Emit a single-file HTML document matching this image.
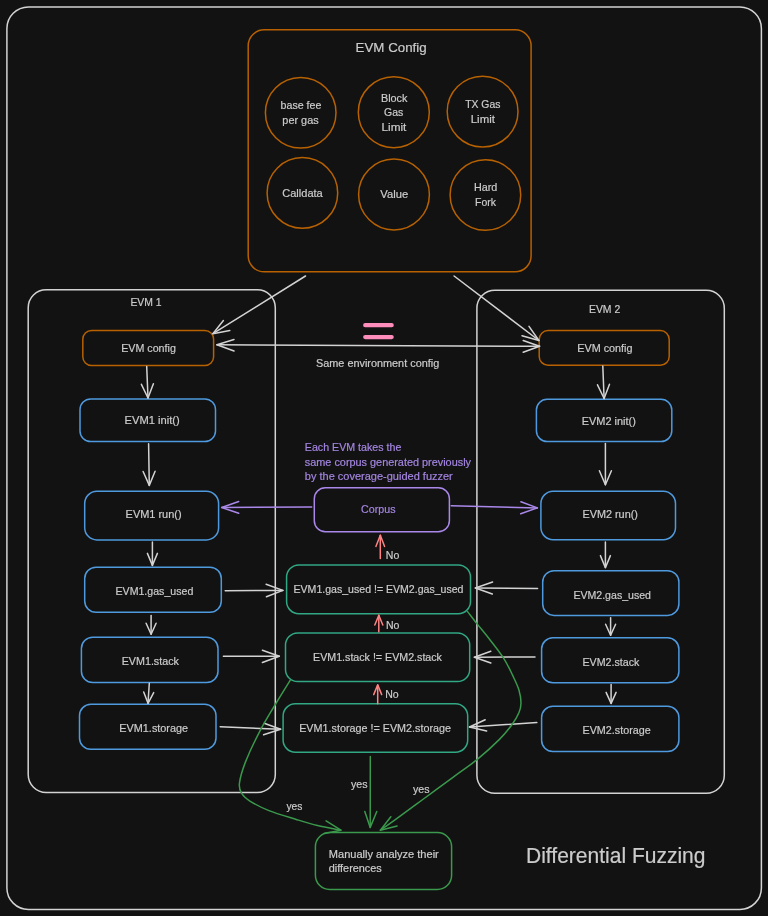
<!DOCTYPE html>
<html><head><meta charset="utf-8"><style>
html,body{margin:0;padding:0;background:#121212;}
body{width:768px;height:916px;overflow:hidden;}
svg{display:block;will-change:transform;font-family:"Liberation Sans",sans-serif;}
</style></head><body>
<svg width="768" height="916" viewBox="0 0 768 916">
<rect width="768" height="916" fill="#121212"/>
<rect x="6.9" y="6.9" width="754.5" height="902.5" rx="21.5" fill="none" stroke="#d3d3d3" stroke-width="1.5"/>
<rect x="248.2" y="29.8" width="282.9" height="242.0" rx="16.0" fill="none" stroke="#b76100" stroke-width="1.5"/>
<text x="391.1" y="51.9" font-size="13.5" fill="#cccccc" stroke="#cccccc" stroke-width="0.2" text-anchor="middle" textLength="71.0" lengthAdjust="spacingAndGlyphs">EVM Config</text>
<circle cx="300.7" cy="112.8" r="35.3" fill="none" stroke="#b76100" stroke-width="1.5"/>
<circle cx="393.8" cy="112.2" r="35.5" fill="none" stroke="#b76100" stroke-width="1.5"/>
<circle cx="482.6" cy="111.6" r="35.4" fill="none" stroke="#b76100" stroke-width="1.5"/>
<circle cx="302.4" cy="192.9" r="35.3" fill="none" stroke="#b76100" stroke-width="1.5"/>
<circle cx="394.0" cy="194.5" r="35.4" fill="none" stroke="#b76100" stroke-width="1.5"/>
<circle cx="485.4" cy="195.0" r="35.3" fill="none" stroke="#b76100" stroke-width="1.5"/>
<text x="301.0" y="109.1" font-size="11.3" fill="#cccccc" stroke="#cccccc" stroke-width="0.2" text-anchor="middle" textLength="40.8" lengthAdjust="spacingAndGlyphs">base fee</text>
<text x="300.5" y="123.9" font-size="11.3" fill="#cccccc" stroke="#cccccc" stroke-width="0.2" text-anchor="middle" textLength="36.3" lengthAdjust="spacingAndGlyphs">per gas</text>
<text x="394.2" y="101.6" font-size="11.3" fill="#cccccc" stroke="#cccccc" stroke-width="0.2" text-anchor="middle" textLength="26.5" lengthAdjust="spacingAndGlyphs">Block</text>
<text x="393.7" y="115.7" font-size="11.3" fill="#cccccc" stroke="#cccccc" stroke-width="0.2" text-anchor="middle" textLength="19.2" lengthAdjust="spacingAndGlyphs">Gas</text>
<text x="394.0" y="130.5" font-size="11.3" fill="#cccccc" stroke="#cccccc" stroke-width="0.2" text-anchor="middle" textLength="24.8" lengthAdjust="spacingAndGlyphs">Limit</text>
<text x="482.8" y="108.1" font-size="11.3" fill="#cccccc" stroke="#cccccc" stroke-width="0.2" text-anchor="middle" textLength="35.2" lengthAdjust="spacingAndGlyphs">TX Gas</text>
<text x="482.8" y="122.5" font-size="11.3" fill="#cccccc" stroke="#cccccc" stroke-width="0.2" text-anchor="middle" textLength="24.1" lengthAdjust="spacingAndGlyphs">Limit</text>
<text x="302.5" y="196.9" font-size="11.3" fill="#cccccc" stroke="#cccccc" stroke-width="0.2" text-anchor="middle" textLength="40.5" lengthAdjust="spacingAndGlyphs">Calldata</text>
<text x="394.2" y="198.0" font-size="11.3" fill="#cccccc" stroke="#cccccc" stroke-width="0.2" text-anchor="middle" textLength="27.9" lengthAdjust="spacingAndGlyphs">Value</text>
<text x="485.6" y="191.1" font-size="11.3" fill="#cccccc" stroke="#cccccc" stroke-width="0.2" text-anchor="middle" textLength="23.4" lengthAdjust="spacingAndGlyphs">Hard</text>
<text x="485.6" y="205.6" font-size="11.3" fill="#cccccc" stroke="#cccccc" stroke-width="0.2" text-anchor="middle" textLength="21.0" lengthAdjust="spacingAndGlyphs">Fork</text>
<rect x="28.2" y="289.8" width="247.1" height="502.8" rx="18.0" fill="none" stroke="#d3d3d3" stroke-width="1.5"/>
<rect x="476.9" y="290.2" width="247.4" height="503.1" rx="18.0" fill="none" stroke="#d3d3d3" stroke-width="1.5"/>
<text x="146.0" y="306.0" font-size="11.3" fill="#cccccc" stroke="#cccccc" stroke-width="0.2" text-anchor="middle" textLength="31.2" lengthAdjust="spacingAndGlyphs">EVM 1</text>
<text x="604.6" y="313.3" font-size="11.3" fill="#cccccc" stroke="#cccccc" stroke-width="0.2" text-anchor="middle" textLength="31.3" lengthAdjust="spacingAndGlyphs">EVM 2</text>
<rect x="82.8" y="330.5" width="130.8" height="35.0" rx="8.8" fill="none" stroke="#b76100" stroke-width="1.5"/>
<text x="148.5" y="351.8" font-size="11.3" fill="#cccccc" stroke="#cccccc" stroke-width="0.2" text-anchor="middle" textLength="54.7" lengthAdjust="spacingAndGlyphs">EVM config</text>
<rect x="80.0" y="398.9" width="135.5" height="42.7" rx="10.7" fill="none" stroke="#4f9ade" stroke-width="1.5"/>
<text x="152.2" y="424.2" font-size="11.3" fill="#cccccc" stroke="#cccccc" stroke-width="0.2" text-anchor="middle" textLength="55.2" lengthAdjust="spacingAndGlyphs">EVM1 init()</text>
<rect x="84.7" y="491.3" width="133.9" height="48.6" rx="12.2" fill="none" stroke="#4f9ade" stroke-width="1.5"/>
<text x="153.6" y="518.3" font-size="11.3" fill="#cccccc" stroke="#cccccc" stroke-width="0.2" text-anchor="middle" textLength="56.0" lengthAdjust="spacingAndGlyphs">EVM1 run()</text>
<rect x="84.7" y="567.2" width="136.6" height="45.1" rx="11.3" fill="none" stroke="#4f9ade" stroke-width="1.5"/>
<text x="154.4" y="595.1" font-size="11.3" fill="#cccccc" stroke="#cccccc" stroke-width="0.2" text-anchor="middle" textLength="77.8" lengthAdjust="spacingAndGlyphs">EVM1.gas_used</text>
<rect x="81.4" y="637.2" width="136.6" height="45.3" rx="11.3" fill="none" stroke="#4f9ade" stroke-width="1.5"/>
<text x="150.3" y="664.8" font-size="11.3" fill="#cccccc" stroke="#cccccc" stroke-width="0.2" text-anchor="middle" textLength="57.3" lengthAdjust="spacingAndGlyphs">EVM1.stack</text>
<rect x="79.5" y="704.3" width="136.5" height="45.0" rx="11.3" fill="none" stroke="#4f9ade" stroke-width="1.5"/>
<text x="153.7" y="732.0" font-size="11.3" fill="#cccccc" stroke="#cccccc" stroke-width="0.2" text-anchor="middle" textLength="68.7" lengthAdjust="spacingAndGlyphs">EVM1.storage</text>
<rect x="539.2" y="330.6" width="130.0" height="34.6" rx="8.8" fill="none" stroke="#b76100" stroke-width="1.5"/>
<text x="604.9" y="352.1" font-size="11.3" fill="#cccccc" stroke="#cccccc" stroke-width="0.2" text-anchor="middle" textLength="55.2" lengthAdjust="spacingAndGlyphs">EVM config</text>
<rect x="536.4" y="399.3" width="135.4" height="42.2" rx="10.7" fill="none" stroke="#4f9ade" stroke-width="1.5"/>
<text x="608.8" y="424.5" font-size="11.3" fill="#cccccc" stroke="#cccccc" stroke-width="0.2" text-anchor="middle" textLength="54.2" lengthAdjust="spacingAndGlyphs">EVM2 init()</text>
<rect x="540.9" y="491.3" width="134.6" height="48.4" rx="12.2" fill="none" stroke="#4f9ade" stroke-width="1.5"/>
<text x="610.2" y="518.1" font-size="11.3" fill="#cccccc" stroke="#cccccc" stroke-width="0.2" text-anchor="middle" textLength="55.5" lengthAdjust="spacingAndGlyphs">EVM2 run()</text>
<rect x="542.7" y="570.7" width="136.2" height="44.7" rx="11.3" fill="none" stroke="#4f9ade" stroke-width="1.5"/>
<text x="612.2" y="598.9" font-size="11.3" fill="#cccccc" stroke="#cccccc" stroke-width="0.2" text-anchor="middle" textLength="77.6" lengthAdjust="spacingAndGlyphs">EVM2.gas_used</text>
<rect x="541.6" y="637.8" width="137.3" height="45.0" rx="11.3" fill="none" stroke="#4f9ade" stroke-width="1.5"/>
<text x="610.9" y="665.6" font-size="11.3" fill="#cccccc" stroke="#cccccc" stroke-width="0.2" text-anchor="middle" textLength="56.8" lengthAdjust="spacingAndGlyphs">EVM2.stack</text>
<rect x="541.6" y="706.3" width="137.3" height="45.3" rx="11.3" fill="none" stroke="#4f9ade" stroke-width="1.5"/>
<text x="616.6" y="734.1" font-size="11.3" fill="#cccccc" stroke="#cccccc" stroke-width="0.2" text-anchor="middle" textLength="68.2" lengthAdjust="spacingAndGlyphs">EVM2.storage</text>
<text x="304.8" y="451.4" font-size="11.3" fill="#a385e0" stroke="#a385e0" stroke-width="0.2" text-anchor="start" textLength="96.6" lengthAdjust="spacingAndGlyphs">Each EVM takes the</text>
<text x="304.8" y="465.9" font-size="11.3" fill="#a385e0" stroke="#a385e0" stroke-width="0.2" text-anchor="start" textLength="166.2" lengthAdjust="spacingAndGlyphs">same corpus generated previously</text>
<text x="304.8" y="480.3" font-size="11.3" fill="#a385e0" stroke="#a385e0" stroke-width="0.2" text-anchor="start" textLength="148.0" lengthAdjust="spacingAndGlyphs">by the coverage-guided fuzzer</text>
<rect x="314.3" y="487.8" width="135.1" height="44.0" rx="11.0" fill="none" stroke="#aa88ea" stroke-width="1.5"/>
<text x="378.3" y="512.8" font-size="11.3" fill="#a385e0" stroke="#a385e0" stroke-width="0.2" text-anchor="middle" textLength="34.4" lengthAdjust="spacingAndGlyphs">Corpus</text>
<rect x="286.6" y="565.0" width="183.9" height="48.7" rx="12.2" fill="none" stroke="#31a783" stroke-width="1.5"/>
<text x="378.5" y="593.1" font-size="11.3" fill="#cccccc" stroke="#cccccc" stroke-width="0.2" text-anchor="middle" textLength="170.0" lengthAdjust="spacingAndGlyphs">EVM1.gas_used != EVM2.gas_used</text>
<rect x="285.5" y="632.9" width="184.2" height="48.7" rx="12.2" fill="none" stroke="#31a783" stroke-width="1.5"/>
<text x="377.5" y="661.0" font-size="11.3" fill="#cccccc" stroke="#cccccc" stroke-width="0.2" text-anchor="middle" textLength="128.9" lengthAdjust="spacingAndGlyphs">EVM1.stack != EVM2.stack</text>
<rect x="283.1" y="703.8" width="184.6" height="48.4" rx="12.2" fill="none" stroke="#31a783" stroke-width="1.5"/>
<text x="375.1" y="731.6" font-size="11.3" fill="#cccccc" stroke="#cccccc" stroke-width="0.2" text-anchor="middle" textLength="151.8" lengthAdjust="spacingAndGlyphs">EVM1.storage != EVM2.storage</text>
<rect x="315.4" y="832.5" width="136.2" height="56.9" rx="14.2" fill="none" stroke="#3a994c" stroke-width="1.5"/>
<text x="328.8" y="858.2" font-size="10.5" fill="#cccccc" stroke="#cccccc" stroke-width="0.2" text-anchor="start" textLength="110.0" lengthAdjust="spacingAndGlyphs">Manually analyze their</text>
<text x="328.8" y="871.7" font-size="10.5" fill="#cccccc" stroke="#cccccc" stroke-width="0.2" text-anchor="start" textLength="53.0" lengthAdjust="spacingAndGlyphs">differences</text>
<text x="526.0" y="862.9" font-size="22" fill="#cccccc" stroke="#cccccc" stroke-width="0.2" text-anchor="start" textLength="179.5" lengthAdjust="spacingAndGlyphs">Differential Fuzzing</text>
<path d="M365.2 325.2H391.7M365.2 337.1H391.7" stroke="#ff8dbc" stroke-width="4.2" stroke-linecap="round"/>
<text x="316.0" y="366.7" font-size="11.3" fill="#cccccc" stroke="#cccccc" stroke-width="0.2" text-anchor="start" textLength="123.2" lengthAdjust="spacingAndGlyphs">Same environment config</text>
<path d="M305.5 276.0 L212.9 333.7" stroke="#d3d3d3" stroke-width="1.5" fill="none" stroke-linecap="round" stroke-linejoin="round"/>
<path d="M223.4 320.5L212.9 333.7L229.8 330.6" stroke="#d3d3d3" stroke-width="1.5" fill="none" stroke-linecap="round" stroke-linejoin="round"/>
<path d="M454.1 276.0 L538.9 340.5" stroke="#d3d3d3" stroke-width="1.5" fill="none" stroke-linecap="round" stroke-linejoin="round"/>
<path d="M529.0 326.4L538.9 340.5L522.0 335.8" stroke="#d3d3d3" stroke-width="1.5" fill="none" stroke-linecap="round" stroke-linejoin="round"/>
<path d="M216.9 344.7 L539.6 346.3" stroke="#d3d3d3" stroke-width="1.5" fill="none" stroke-linecap="round" stroke-linejoin="round"/>
<path d="M523.2 340.5L539.6 346.3L523.2 352.2" stroke="#d3d3d3" stroke-width="1.5" fill="none" stroke-linecap="round" stroke-linejoin="round"/>
<path d="M234 339.5L216.9 344.7L234 351" stroke="#d3d3d3" stroke-width="1.5" fill="none" stroke-linecap="round" stroke-linejoin="round"/>
<path d="M146.7 366.4 L148.0 398.0" stroke="#d3d3d3" stroke-width="1.5" fill="none" stroke-linecap="round" stroke-linejoin="round"/>
<path d="M141.4 384.3L148.0 398.0L153.4 383.8" stroke="#d3d3d3" stroke-width="1.5" fill="none" stroke-linecap="round" stroke-linejoin="round"/>
<path d="M148.6 443.7 L149.3 485.4" stroke="#d3d3d3" stroke-width="1.5" fill="none" stroke-linecap="round" stroke-linejoin="round"/>
<path d="M143.1 471.5L149.3 485.4L155.1 471.3" stroke="#d3d3d3" stroke-width="1.5" fill="none" stroke-linecap="round" stroke-linejoin="round"/>
<path d="M152.4 542.0 L152.4 565.4" stroke="#d3d3d3" stroke-width="1.5" fill="none" stroke-linecap="round" stroke-linejoin="round"/>
<path d="M147.4 553.4L152.4 565.4L157.4 553.4" stroke="#d3d3d3" stroke-width="1.5" fill="none" stroke-linecap="round" stroke-linejoin="round"/>
<path d="M151.1 615.4 L151.1 634.2" stroke="#d3d3d3" stroke-width="1.5" fill="none" stroke-linecap="round" stroke-linejoin="round"/>
<path d="M146.1 623.2L151.1 634.2L156.1 623.2" stroke="#d3d3d3" stroke-width="1.5" fill="none" stroke-linecap="round" stroke-linejoin="round"/>
<path d="M149.3 683.3 L148.0 703.3" stroke="#d3d3d3" stroke-width="1.5" fill="none" stroke-linecap="round" stroke-linejoin="round"/>
<path d="M143.7 692.0L148.0 703.3L153.7 692.6" stroke="#d3d3d3" stroke-width="1.5" fill="none" stroke-linecap="round" stroke-linejoin="round"/>
<path d="M602.8 366.0 L604.1 398.5" stroke="#d3d3d3" stroke-width="1.5" fill="none" stroke-linecap="round" stroke-linejoin="round"/>
<path d="M597.5 384.8L604.1 398.5L609.5 384.3" stroke="#d3d3d3" stroke-width="1.5" fill="none" stroke-linecap="round" stroke-linejoin="round"/>
<path d="M605.4 443.5 L605.4 484.8" stroke="#d3d3d3" stroke-width="1.5" fill="none" stroke-linecap="round" stroke-linejoin="round"/>
<path d="M599.4 470.8L605.4 484.8L611.4 470.8" stroke="#d3d3d3" stroke-width="1.5" fill="none" stroke-linecap="round" stroke-linejoin="round"/>
<path d="M605.4 542.0 L605.4 567.6" stroke="#d3d3d3" stroke-width="1.5" fill="none" stroke-linecap="round" stroke-linejoin="round"/>
<path d="M600.4 555.6L605.4 567.6L610.4 555.6" stroke="#d3d3d3" stroke-width="1.5" fill="none" stroke-linecap="round" stroke-linejoin="round"/>
<path d="M610.6 617.7 L610.6 635.2" stroke="#d3d3d3" stroke-width="1.5" fill="none" stroke-linecap="round" stroke-linejoin="round"/>
<path d="M605.6 624.2L610.6 635.2L615.6 624.2" stroke="#d3d3d3" stroke-width="1.5" fill="none" stroke-linecap="round" stroke-linejoin="round"/>
<path d="M611.1 684.6 L611.1 703.4" stroke="#d3d3d3" stroke-width="1.5" fill="none" stroke-linecap="round" stroke-linejoin="round"/>
<path d="M606.1 692.4L611.1 703.4L616.1 692.4" stroke="#d3d3d3" stroke-width="1.5" fill="none" stroke-linecap="round" stroke-linejoin="round"/>
<path d="M225.2 590.8 L282.9 590.4" stroke="#d3d3d3" stroke-width="1.5" fill="none" stroke-linecap="round" stroke-linejoin="round"/>
<path d="M266.1 584.2L282.9 590.4L266.4 596.7" stroke="#d3d3d3" stroke-width="1.5" fill="none" stroke-linecap="round" stroke-linejoin="round"/>
<path d="M223.4 656.2 L279.3 656.2" stroke="#d3d3d3" stroke-width="1.5" fill="none" stroke-linecap="round" stroke-linejoin="round"/>
<path d="M262.4 650.2L279.3 656.2L262.4 662.5" stroke="#d3d3d3" stroke-width="1.5" fill="none" stroke-linecap="round" stroke-linejoin="round"/>
<path d="M220.2 726.8 L280.6 729.2" stroke="#d3d3d3" stroke-width="1.5" fill="none" stroke-linecap="round" stroke-linejoin="round"/>
<path d="M264.2 723.3L280.6 729.2L263.6 734.7" stroke="#d3d3d3" stroke-width="1.5" fill="none" stroke-linecap="round" stroke-linejoin="round"/>
<path d="M537.6 588.6 L475.4 588.0" stroke="#d3d3d3" stroke-width="1.5" fill="none" stroke-linecap="round" stroke-linejoin="round"/>
<path d="M492.6 582.0L475.4 588.0L492.3 594.0" stroke="#d3d3d3" stroke-width="1.5" fill="none" stroke-linecap="round" stroke-linejoin="round"/>
<path d="M535.0 657.0 L474.4 657.2" stroke="#d3d3d3" stroke-width="1.5" fill="none" stroke-linecap="round" stroke-linejoin="round"/>
<path d="M490.8 651.3L474.4 657.2L490.8 663.0" stroke="#d3d3d3" stroke-width="1.5" fill="none" stroke-linecap="round" stroke-linejoin="round"/>
<path d="M536.8 722.6 L469.5 727.0" stroke="#d3d3d3" stroke-width="1.5" fill="none" stroke-linecap="round" stroke-linejoin="round"/>
<path d="M485.2 719.7L469.5 727.0L486.6 731.0" stroke="#d3d3d3" stroke-width="1.5" fill="none" stroke-linecap="round" stroke-linejoin="round"/>
<path d="M311.7 506.9 L221.7 507.5" stroke="#aa88ea" stroke-width="1.5" fill="none" stroke-linecap="round" stroke-linejoin="round"/>
<path d="M238.7 501.5L221.7 507.5L238.7 513.2" stroke="#aa88ea" stroke-width="1.5" fill="none" stroke-linecap="round" stroke-linejoin="round"/>
<path d="M451.2 505.8 L537.4 507.9" stroke="#aa88ea" stroke-width="1.5" fill="none" stroke-linecap="round" stroke-linejoin="round"/>
<path d="M520.9 501.8L537.4 507.9L520.7 513.7" stroke="#aa88ea" stroke-width="1.5" fill="none" stroke-linecap="round" stroke-linejoin="round"/>
<path d="M380.3 558.4 L380.3 535.2" stroke="#ff8383" stroke-width="1.5" fill="none" stroke-linecap="round" stroke-linejoin="round"/>
<path d="M375.9 546.4L380.3 535.2L384.6 546.4" stroke="#ff8383" stroke-width="1.5" fill="none" stroke-linecap="round" stroke-linejoin="round"/>
<path d="M378.8 631.8 L378.8 615.2" stroke="#ff8383" stroke-width="1.5" fill="none" stroke-linecap="round" stroke-linejoin="round"/>
<path d="M374.8 625.0L378.8 615.2L382.8 625.0" stroke="#ff8383" stroke-width="1.5" fill="none" stroke-linecap="round" stroke-linejoin="round"/>
<path d="M377.7 703.8 L377.7 684.9" stroke="#ff8383" stroke-width="1.5" fill="none" stroke-linecap="round" stroke-linejoin="round"/>
<path d="M373.7 694.6L377.7 684.9L381.7 694.6" stroke="#ff8383" stroke-width="1.5" fill="none" stroke-linecap="round" stroke-linejoin="round"/>
<text x="385.8" y="558.9" font-size="11.3" fill="#cccccc" stroke="#cccccc" stroke-width="0.2" text-anchor="start" textLength="13.5" lengthAdjust="spacingAndGlyphs">No</text>
<text x="386.0" y="628.9" font-size="11.3" fill="#cccccc" stroke="#cccccc" stroke-width="0.2" text-anchor="start" textLength="13.5" lengthAdjust="spacingAndGlyphs">No</text>
<text x="385.2" y="698.1" font-size="11.3" fill="#cccccc" stroke="#cccccc" stroke-width="0.2" text-anchor="start" textLength="13.5" lengthAdjust="spacingAndGlyphs">No</text>
<path d="M370.3 756.5 L370.2 827.4" stroke="#3a994c" stroke-width="1.5" fill="none" stroke-linecap="round" stroke-linejoin="round"/>
<path d="M364.8 811.5L370.2 827.4L376.8 811.5" stroke="#3a994c" stroke-width="1.5" fill="none" stroke-linecap="round" stroke-linejoin="round"/>
<path d="M290.1 680.5 C287.6 684.5 280.4 696.0 275.3 704.5 C270.2 713.0 264.5 722.1 259.5 731.8 C254.5 741.4 248.7 753.8 245.3 762.4 C242.0 771.0 240.0 778.3 239.4 783.5 C238.8 788.7 239.9 790.4 241.7 793.4 C243.5 796.4 245.8 798.4 250.3 801.3 C254.9 804.2 261.4 807.6 269.0 810.6 C276.6 813.6 287.5 816.7 295.6 819.2 C303.7 821.7 309.9 823.7 317.5 825.5 C325.1 827.3 337.0 829.4 340.9 830.2" stroke="#3a994c" stroke-width="1.5" fill="none" stroke-linecap="round" stroke-linejoin="round"/>
<path d="M326.1 820.8L340.9 830.2L324.5 833.5" stroke="#3a994c" stroke-width="1.5" fill="none" stroke-linecap="round" stroke-linejoin="round"/>
<path d="M467.6 611.6 C469.2 613.6 473.4 619.2 476.9 623.6 C480.4 628.0 484.0 632.2 488.4 637.8 C492.8 643.4 499.1 651.2 503.1 657.4 C507.1 663.6 509.8 669.4 512.4 674.9 C515.0 680.4 517.6 685.5 519.0 690.2 C520.4 694.9 521.0 699.3 521.0 703.0 C521.0 706.7 520.5 708.8 519.0 712.5 C517.5 716.2 515.0 720.5 511.7 725.0 C508.4 729.5 504.9 733.9 499.2 739.6 C493.5 745.3 484.9 753.1 477.3 759.4 C469.7 765.6 462.5 770.3 453.3 777.1 C444.1 783.9 431.8 792.9 422.1 800.0 C412.4 807.1 401.9 814.8 395.0 819.8 C388.1 824.8 382.8 828.5 380.4 830.2" stroke="#3a994c" stroke-width="1.5" fill="none" stroke-linecap="round" stroke-linejoin="round"/>
<path d="M390.8 816.7L380.4 830.2L397.1 826.0" stroke="#3a994c" stroke-width="1.5" fill="none" stroke-linecap="round" stroke-linejoin="round"/>
<text x="351.0" y="787.8" font-size="11.3" fill="#cccccc" stroke="#cccccc" stroke-width="0.2" text-anchor="start" textLength="16.6" lengthAdjust="spacingAndGlyphs">yes</text>
<text x="413.0" y="793.0" font-size="11.3" fill="#cccccc" stroke="#cccccc" stroke-width="0.2" text-anchor="start" textLength="16.6" lengthAdjust="spacingAndGlyphs">yes</text>
<text x="286.4" y="810.0" font-size="11.3" fill="#cccccc" stroke="#cccccc" stroke-width="0.2" text-anchor="start" textLength="16.0" lengthAdjust="spacingAndGlyphs">yes</text>
</svg>
</body></html>
